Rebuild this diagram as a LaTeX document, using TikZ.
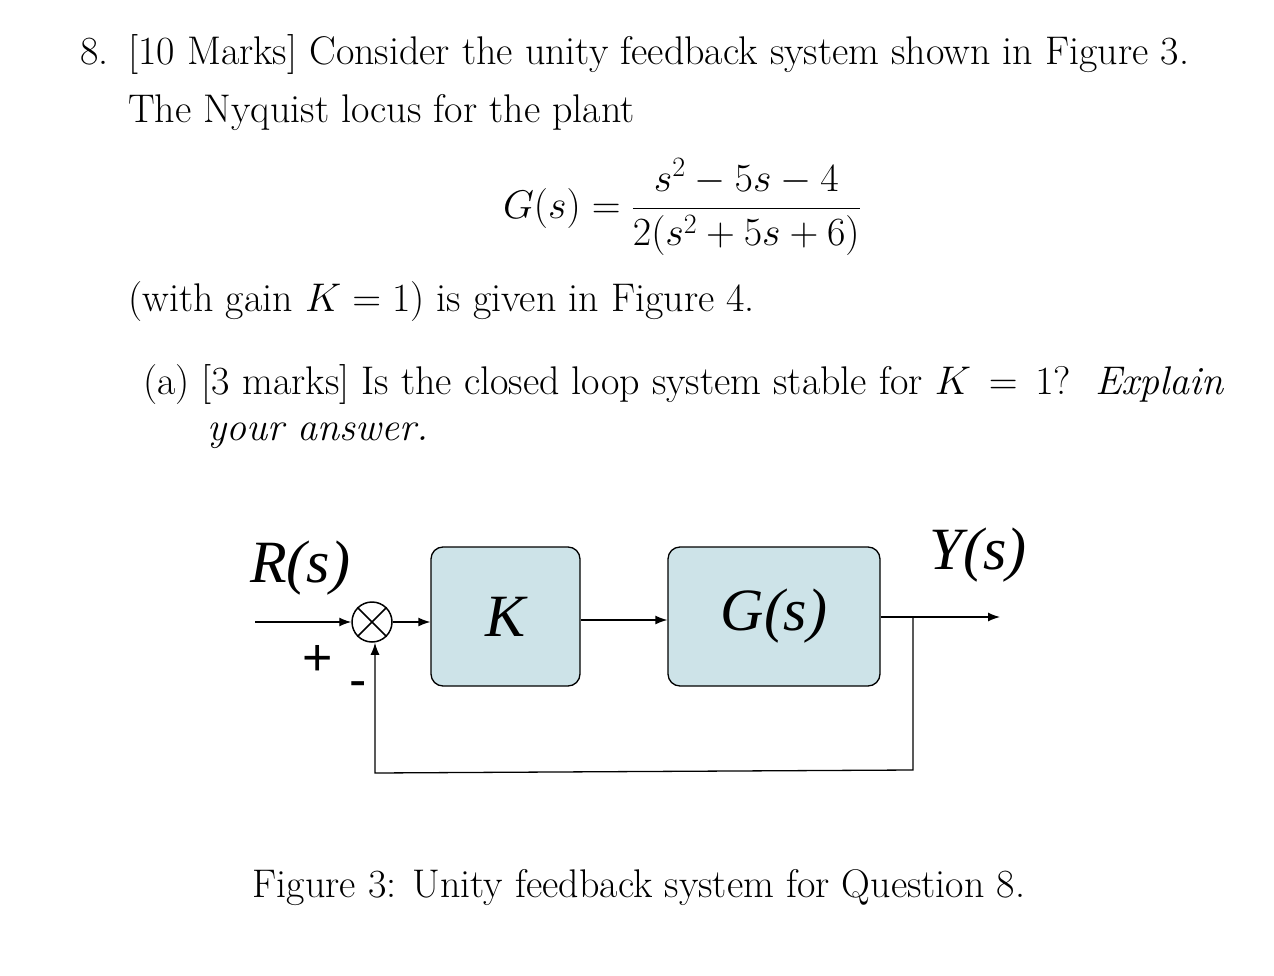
\RequirePackage{fix-cm}
\documentclass[tikz,border=0pt]{standalone}
\usepackage{fontspec}
\usepackage{amsmath}
\usetikzlibrary{arrows.meta}
\newfontfamily\tms{Liberation Serif}
\newfontfamily\sns{Liberation Sans}
\definecolor{boxfill}{HTML}{CDE3E8}
\begin{document}
\begin{tikzpicture}[x=1pt,y=-1pt,
  txt/.style={anchor=base west,inner sep=0,font=\fontsize{40}{46}\selectfont},
  blk/.style={draw,line width=1.3pt,rounded corners=12pt,fill=boxfill},
  big/.style={font=\fontsize{60}{66}\selectfont\tms\itshape,inner sep=0},
  arr/.style={line width=1.3pt,-{Latex[length=12pt,width=9pt]}},
  ln/.style={line width=1.3pt}]
\useasboundingbox (0,0) rectangle (1274,976);
\node[txt] (n8) at (80,65) {8.};
\node[txt] (l1) at (128,65) {[10 Marks] Consider the unity feedback system shown in Figure 3.};
\node[txt] (l2) at (128,123) {The Nyquist locus for the plant};
\node[anchor=center,inner sep=0,font=\fontsize{40}{46}\selectfont] (eq) at (682,207) {$G(s)=\dfrac{s^2-5s-4}{2(s^2+5s+6)}$};
\node[txt] (l3) at (128,312) {(with gain $K=1$) is given in Figure 4.};
\node[txt] (l4) at (143,394) {(a) [3 marks] Is the closed loop system stable for $K\,=\,1$?\ \ \textit{Explain}};
\node[txt] (l5) at (207,440) {\textit{your answer.}};
% diagram
\node[blk,minimum width=149pt,minimum height=139pt] (K) at (505.5,616.5) {};
\node[big] at (K) {K};
\node[blk,minimum width=212pt,minimum height=139pt] (G) at (774,616.5) {};
\node[big] at (G) {G(s)};
\node[draw,circle,line width=1.5pt,minimum size=40pt,inner sep=0] (S) at (372,622) {};
\draw[line width=1.5pt] (S.45) -- (S.225) (S.135) -- (S.315);
\coordinate (in) at (255,622);
\draw[arr] (in) -- (S);
\draw[arr] (S) -- (K.west|-S);
\draw[arr] (K.east|-0,620) -- (G.west|-0,620);
\coordinate (tap) at (913,617);
\coordinate (out) at (1000,617);
\draw[ln] (G.east|-tap) -- (tap);
\draw[arr] (tap) -- (out);
\coordinate (c1) at (913,770);
\coordinate (c2) at (375,773);
\draw[arr] (tap) -- (c1) -- (c2) -- (S.south-|c2);
\node[big] at (300,568) {R(s)};
\node[big] at (978,555) {Y(s)};
\node[font=\fontsize{52}{56}\selectfont\sns,inner sep=0] at (318,660) {+};
\node[font=\fontsize{52}{56}\selectfont\sns,inner sep=0] at (358,690) {-};
\node[anchor=center,inner sep=0,font=\fontsize{40}{46}\selectfont] (cap) at (639,888) {Figure 3: Unity feedback system for Question 8.};
\end{tikzpicture}
\end{document}
